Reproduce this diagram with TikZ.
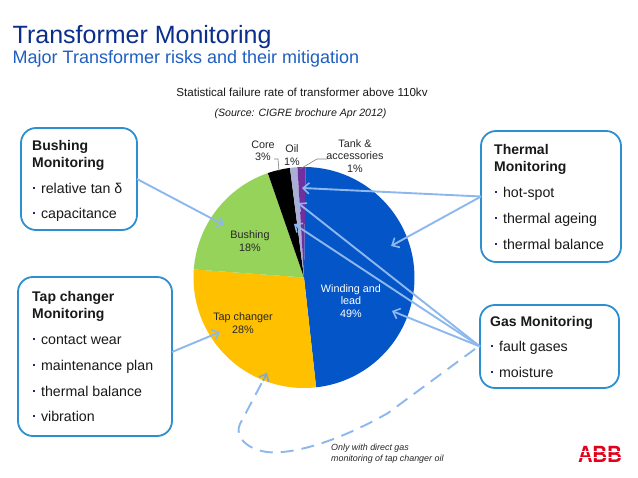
\documentclass[tikz,border=0pt]{standalone}
\usepackage{fontspec}
\setmainfont{Liberation Sans}
\usetikzlibrary{arrows.meta}
\definecolor{titleblue}{HTML}{0B2E8C}
\definecolor{subblue}{HTML}{1F5FC4}
\definecolor{boxblue}{HTML}{2E8FD0}
\definecolor{linkblue}{HTML}{8DB8EE}
\definecolor{bulletblue}{HTML}{1A2A80}
\definecolor{windblue}{HTML}{0455C8}
\definecolor{tapyellow}{HTML}{FFC000}
\definecolor{bushgreen}{HTML}{96D35A}
\definecolor{oillav}{HTML}{A9AED6}
\definecolor{tankpurple}{HTML}{7030A0}
\definecolor{abbred}{HTML}{E2001A}
\newcommand{\bul}{\textcolor{bulletblue}{\raisebox{5pt}{\rule{2.4pt}{2.4pt}}}\hspace{6pt}}
\tikzset{
  monbox/.style={draw=boxblue,line width=1.8pt,rounded corners=15pt,fill=white,inner sep=0pt,outer sep=0pt},
  boxtext/.style={anchor=base west,inner sep=0pt,font=\fontsize{14.2}{16}\selectfont,text=black!90},
  boxhead/.style={boxtext,font=\fontsize{14}{16}\selectfont\bfseries},
  pielabel/.style={align=center,inner sep=0pt,font=\fontsize{10.8}{12.5}\selectfont,text=black!85},
  note/.style={inner sep=0pt,font=\fontsize{8.9}{11}\selectfont\itshape,text=black!85,align=left},
  link/.style={draw=linkblue,line width=1.9pt,-{Straight Barb[length=6pt,width=11pt,line width=1.6pt]}},
  leader/.style={draw=black!50,line width=0.6pt},
}
\begin{document}
\begin{tikzpicture}[x=1pt,y=-1pt]
\useasboundingbox (0,0) rectangle (638,478);
\fill[white] (0,0) rectangle (638,478);
% titles
\node[anchor=base west,inner sep=0pt,text=titleblue,font=\fontsize{25}{28}\selectfont] (title) at (12.5,43.5) {Transformer Monitoring};
\node[anchor=base west,inner sep=0pt,text=subblue,font=\fontsize{18}{21}\selectfont] (subtitle) at (12.5,64) {Major Transformer risks and their mitigation};
\node[anchor=base,inner sep=0pt,text=black!90,font=\fontsize{11.6}{13}\selectfont] (chart) at (302,97) {Statistical failure rate of transformer above 110kv};
\node[anchor=base,inner sep=0pt,text=black!90,font=\fontsize{10.6}{13}\selectfont\itshape] (source) at (300.5,116.5) {(Source: CIGRE brochure Apr 2012)};
% pie
\coordinate (c) at (304,277.5);
\fill[windblue] (c) -- ++(-89.2:110.5) arc[start angle=-89.2,end angle=83.7,radius=110.5] -- cycle;
\fill[tapyellow] (c) -- ++(83.7:110.5) arc[start angle=83.7,end angle=184.2,radius=110.5] -- cycle;
\fill[bushgreen] (c) -- ++(184.2:110.5) arc[start angle=184.2,end angle=250.9,radius=110.5] -- cycle;
\fill[black] (c) -- ++(250.9:110.5) arc[start angle=250.9,end angle=262.7,radius=110.5] -- cycle;
\fill[oillav] (c) -- ++(262.7:110.5) arc[start angle=262.7,end angle=266.6,radius=110.5] -- cycle;
\fill[tankpurple] (c) -- ++(266.6:110.5) arc[start angle=266.6,end angle=270.8,radius=110.5] -- cycle;
% leaders
\coordinate (coreend) at (279,171);
\coordinate (tankend) at (300,169);
\draw[leader] (274,159) -- (278,159) -- (coreend);
\draw[leader] (327,159) -- (317,159) -- (tankend);
% pie labels
\node[pielabel] (lcore) at (263,151) {Core\\3\%};
\node[pielabel] (loil) at (292,155) {Oil\\1\%};
\node[pielabel] (ltank) at (355,156) {Tank \&\\accessories\\1\%};
\node[pielabel] (lbush) at (250,241) {Bushing\\18\%};
\node[pielabel] (ltap) at (243,323) {Tap changer\\28\%};
\node[pielabel,text=white] (lwind) at (351,301) {Winding and\\lead\\49\%};
% boxes
\node[monbox,minimum width=116pt,minimum height=102pt] (bushing) at (79,179) {};
\node[monbox,minimum width=154pt,minimum height=159pt] (tap) at (95,356.5) {};
\node[monbox,minimum width=140pt,minimum height=131pt] (thermal) at (551,196.5) {};
\node[monbox,minimum width=139pt,minimum height=83pt] (gas) at (549.5,346.5) {};
% box text
\node[boxhead] (b1) at (32,151) {Bushing};
\node[boxhead] (b2) at (32,168) {Monitoring};
\node[boxtext] (b3) at (32.5,194) {\bul relative tan δ};
\node[boxtext] (b4) at (32.5,219) {\bul capacitance};
\node[boxhead] (t1) at (32,302) {Tap changer};
\node[boxhead] (t2) at (32,319) {Monitoring};
\node[boxtext] (t3) at (32.5,345) {\bul contact wear};
\node[boxtext] (t4) at (32.5,371) {\bul maintenance plan};
\node[boxtext] (t5) at (32.5,397) {\bul thermal balance};
\node[boxtext] (t6) at (32.5,422) {\bul vibration};
\node[boxhead] (h1) at (494,155) {Thermal};
\node[boxhead] (h2) at (494,172) {Monitoring};
\node[boxtext] (h3) at (494.5,198) {\bul hot-spot};
\node[boxtext] (h4) at (494.5,224) {\bul thermal ageing};
\node[boxtext] (h5) at (494.5,250) {\bul thermal balance};
\node[boxhead] (g1) at (490,327) {Gas Monitoring};
\node[boxtext] (g2) at (490.5,352) {\bul fault gases};
\node[boxtext] (g3) at (490.5,378) {\bul moisture};
% connectors
\coordinate (tipbush) at (224,225);
\coordinate (tiptap) at (220,332);
\coordinate (tiphot) at (302,188);
\coordinate (tipage) at (391,246);
\coordinate (tipgasa) at (298,203);
\coordinate (tipgasb) at (294,224);
\coordinate (tipgasc) at (392,311);
\coordinate (tipdash) at (267,373);
\coordinate (dashstart) at (475,349);
\draw[link] (bushing.east) -- (tipbush);
\draw[link] ([yshift=4.5pt]tap.east) -- (tiptap);
\draw[link] (thermal.west) -- (tiphot);
\draw[link] (thermal.west) -- (tipage);
\draw[link] (gas.west) -- (tipgasa);
\draw[link] (gas.west) -- (tipgasb);
\draw[link] (gas.west) -- (tipgasc);
\draw[draw=linkblue,line width=1.9pt,dash pattern=on 13pt off 8pt] (dashstart) -- (388,413) .. controls (330,446) and (280,458) .. (258,450) .. controls (240,444) and (236,432) .. (240,424) -- (tipdash);
\draw[draw=linkblue!70!gray,line width=1.6pt,{Straight Barb[length=6pt,width=11pt,line width=1.6pt]}-] (tipdash) -- (263,381);
% note
\node[note,anchor=north west] (foot) at (331,443.5) {Only with direct gas\\monitoring of tap changer oil};
% logo
\node[anchor=center,inner sep=0pt,text=abbred,xscale=0.86,font=\fontsize{23.5}{24}\selectfont\bfseries] (abb) at (600,454.5) {ABB};
\draw[white,line width=0.4pt] (576,451) -- (624,451);
\draw[white,line width=0.4pt] (576,457) -- (624,457);
\end{tikzpicture}
\end{document}
